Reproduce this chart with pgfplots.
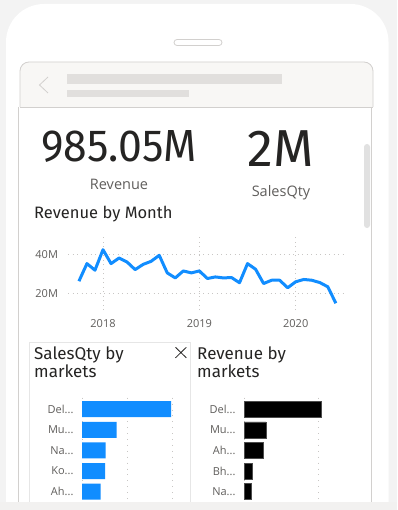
\documentclass[border=0pt]{standalone}
\usepackage{pgfplots}
\pgfplotsset{compat=1.18}
\usepackage{fontspec}
\setmainfont{Open Sans}
\newfontfamily\din{Fira Sans}
\newcommand\dd{...}
\definecolor{bg}{HTML}{F3F3F3}
\definecolor{band}{HTML}{F2F1F0}
\definecolor{pbblue}{HTML}{118DFF}
\definecolor{lbl}{HTML}{605E5C}
\definecolor{dark}{HTML}{252423}
\definecolor{gridc}{HTML}{C8C6C4}
\definecolor{hdr}{HTML}{F8F7F5}
\definecolor{hdrbar}{HTML}{E1DFDD}
\definecolor{lineg}{HTML}{D2D0CE}
\definecolor{cardl}{HTML}{E6E6E6}
\definecolor{scrollc}{HTML}{E1E1E1}
\begin{document}
\begin{tikzpicture}[x=1pt,y=-1pt]
\useasboundingbox (0,0) rectangle (397,510);
\clip (0,0) rectangle (397,510);
\fill[bg] (0,0) rectangle (397,510);
% phone body
\fill[white, rounded corners=38pt] (6,4) rectangle (388.5,580);
% speaker
\draw[lineg, line width=0.8pt, rounded corners=3pt] (174,39.5) rectangle (222,45.5);
% header
\filldraw[fill=hdr, draw=lineg, line width=0.8pt, rounded corners=9pt] (20,62) rectangle (373,120);
\fill[white] (19.4,107) rectangle (373.6,130);
\draw[lineg, line width=0.8pt] (20,107) -- (373,107);
\draw[lineg, line width=0.8pt] (18.8,107) -- (18.8,510);
\draw[lineg, line width=0.8pt] (371.8,107) -- (371.8,510);
\draw[lineg, line width=0.8pt] (48,77) -- (39.5,85) -- (48,93);
\fill[hdrbar] (67,74) rectangle (282,84.5);
\fill[hdrbar] (67,90) rectangle (189,97);
% scrollbar
\fill[scrollc, rounded corners=3pt] (364,144) rectangle (370,228);
% KPIs
\node[anchor=base, text=dark, inner sep=0pt] at (119,161.7) {\scalebox{0.95}[1]{\din\fontsize{45}{45}\selectfont 985.05M}};
\node[anchor=base, text=lbl, inner sep=0pt] at (119,190) {\fontsize{14.5}{15}\selectfont Revenue};
\node[anchor=base, text=dark, inner sep=0pt] at (281,166.5) {\din\fontsize{52}{52}\selectfont 2M};
\node[anchor=base, text=lbl, inner sep=0pt] at (281,197) {\fontsize{14.5}{15}\selectfont SalesQty};
% titles
\node[anchor=base west, text=dark, inner sep=0pt] at (34,218.3) {\din\fontsize{16.5}{17}\selectfont Revenue by Month};
\node[anchor=base west, text=dark, inner sep=0pt] at (34,359) {\din\fontsize{17}{18}\selectfont SalesQty by};
\node[anchor=base west, text=dark, inner sep=0pt] at (34,377) {\din\fontsize{17}{18}\selectfont markets};
\node[anchor=base west, text=dark, inner sep=0pt] at (197,359) {\din\fontsize{17}{18}\selectfont Revenue by};
\node[anchor=base west, text=dark, inner sep=0pt] at (197,377) {\din\fontsize{17}{18}\selectfont markets};
% card border
\draw[cardl, line width=0.8pt] (29.3,510) -- (29.3,342.3) -- (190.3,342.3) -- (190.3,510);
\draw[dark, line width=0.8pt] (175.5,347.3) -- (186.3,357.8) (186.3,347.3) -- (175.5,357.8);

% line chart
\begin{axis}[at={(68pt,-310pt)}, anchor=south west, scale only axis,
  width=277pt, height=75pt,
  xmin=-4.36, xmax=30.14, ymin=11.4, ymax=50.2,
  axis line style={draw=none}, major tick length=0pt,
  xtick={0,12,24}, xticklabels={2018,2019,2020},
  ytick={20,40}, yticklabels={20M,40M},
  grid=major, grid style={gridc, line width=0.9pt, dash pattern=on 0.9pt off 3.6pt},
  tick label style={font=\fontsize{11}{11}\selectfont, text=lbl},
  xticklabel style={yshift=-5.5pt},
  yticklabel style={xshift=-6.5pt},
  clip=false]
\addplot[pbblue, line width=3pt, line join=round] coordinates {
(-3,26.3) (-2,35.4) (-1,32.0) (0,42.6) (1,35.4) (2,38.3) (3,36.2) (4,32.3)
(5,35.0) (6,36.6) (7,39.7) (8,30.6) (9,28.0) (10,31.6) (11,30.6) (12,31.6)
(13,27.7) (14,28.5) (15,28.0) (16,28.2) (17,25.5) (18,35.4) (19,32.5) (20,25.1)
(21,26.8) (22,26.8) (23,22.9) (24,26.0) (25,27.2) (26,26.8) (27,25.6) (28,23.4)
(29,14.9)};
\end{axis}

% SalesQty by markets
\begin{axis}[at={(82pt,-397.7pt)}, anchor=north west, scale only axis,
  width=90.3pt, height=106.3pt,
  xmin=0, xmax=1, ymin=-0.56, ymax=4.6, y dir=reverse,
  xbar, bar width=16pt,
  axis line style={draw=none}, major tick length=0pt,
  xtick={0,0.5,1}, xticklabels={},
  ytick={0,1,2,3,4}, yticklabels={Del\dd,Mu\dd,Na\dd,Ko\dd,Ah\dd},
  xmajorgrids, grid style={gridc, line width=0.9pt, dash pattern=on 0.9pt off 5pt},
  tick label style={font=\fontsize{11}{11}\selectfont, text=lbl},
  yticklabel style={xshift=-5pt},
  clip=false]
\addplot[fill=pbblue, draw=none] coordinates {(0.986,0) (0.384,1) (0.262,2) (0.255,3) (0.207,4)};
\end{axis}

% Revenue by markets
\begin{axis}[at={(244pt,-397.7pt)}, anchor=north west, scale only axis,
  width=74.3pt, height=106.3pt,
  xmin=0, xmax=500, ymin=-0.56, ymax=4.6, y dir=reverse,
  xbar, bar width=16pt,
  axis line style={draw=none}, major tick length=0pt,
  xtick={0,500}, xticklabels={},
  ytick={0,1,2,3,4}, yticklabels={Del\dd,Mu\dd,Ah\dd,Bh\dd,Na\dd},
  xmajorgrids, grid style={gridc, line width=0.9pt, dash pattern=on 0.9pt off 5pt},
  tick label style={font=\fontsize{11}{11}\selectfont, text=lbl},
  yticklabel style={xshift=-5pt},
  clip=false]
\addplot[fill=black, draw=black!70, line width=0.5pt] coordinates {(518,0) (148,1) (130,2) (56,3) (52,4)};
\end{axis}

\fill[band] (0,502) rectangle (397,510);
\end{tikzpicture}
\end{document}
